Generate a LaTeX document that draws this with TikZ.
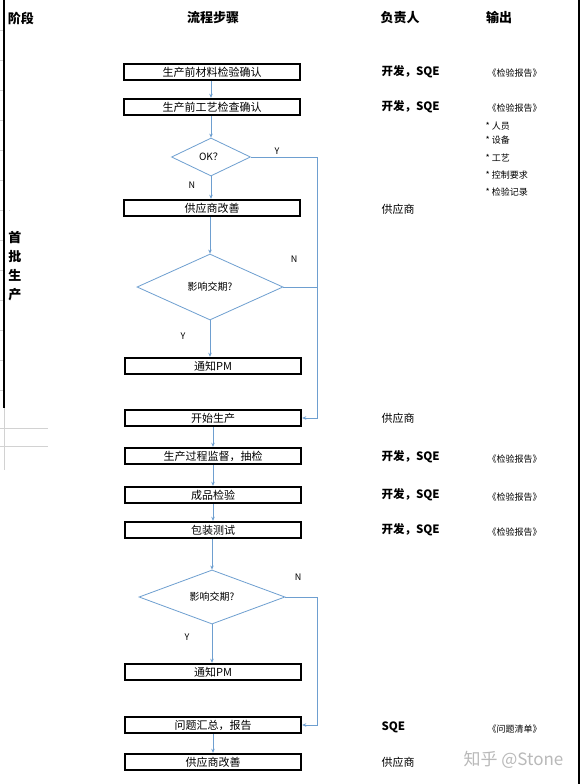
\documentclass[tikz,border=0pt]{standalone}
\usepackage{fontspec}
\setmainfont{Noto Sans CJK SC}
\newfontfamily\cjk{Noto Sans CJK SC}
\usetikzlibrary{shapes.geometric,arrows.meta}
\definecolor{flowblue}{HTML}{6E9FD0}
\begin{document}
\begin{tikzpicture}[x=1pt,y=-1pt,
  stepbox/.style={draw=black,line width=2.4pt,fill=white,minimum width=176pt,minimum height=16pt,inner sep=0pt,font=\fontsize{11}{11}\selectfont},
  decide/.style={diamond,draw=flowblue,line width=0.8pt,inner sep=0pt,font=\fontsize{10}{10}\selectfont},
  arr/.style={draw=flowblue,line width=0.8pt,-{Stealth[length=4pt,width=3.5pt]}},
  ln/.style={draw=flowblue,line width=0.8pt},
  head/.style={font=\fontsize{13}{13}\selectfont\bfseries},
  who/.style={anchor=west,font=\fontsize{11}{11}\selectfont},
  whob/.style={anchor=west,font=\fontsize{11.5}{11.5}\selectfont\bfseries},
  outp/.style={anchor=west,font=\fontsize{9}{9}\selectfont},
  lab/.style={font=\fontsize{9}{9}\selectfont}]
\useasboundingbox (0,0) rectangle (583,784);
\fill[white] (0,0) rectangle (583,784);
% grid remnants
\draw[gray!35,line width=0.6pt] (4,408) -- (4,470);
\draw[gray!35,line width=0.6pt] (0,428) -- (48,428);
\draw[gray!35,line width=0.6pt] (0,446) -- (48,446);
\foreach \yy in {30,60,90,120,150,180,210,240,270,300,330,360,390}
  \draw[gray!35,line width=0.5pt] (0,\yy) -- (3,\yy);
% frame lines
\draw[black,line width=2pt] (4,0) -- (4,408);
\draw[black,line width=2pt] (579,0) -- (579,784);
% headers
\node[head] (h1) at (21,18) {阶段};
\node[head] (h2) at (213,18) {流程步骤};
\node[head] (h3) at (400,18) {负责人};
\node[head] (h4) at (499,18) {输出};
% stage label
\node[font=\fontsize{4}{4}\selectfont] (dot) at (10,211) {.};
\node[head,align=center] (stage) at (15,266) {首\\[6pt]批\\[6pt]生\\[6pt]产};
% boxes
\node[stepbox] (b1) at (212,72) {生产前材料检验确认};
\node[stepbox] (b2) at (212,107) {生产前工艺检查确认};
\node[decide,minimum width=79pt,minimum height=38pt] (d1) at (211,157) {OK？};
\node[stepbox] (b3) at (212,208) {供应商改善};
\node[decide,minimum width=146pt,minimum height=66pt] (d2) at (210,287) {影响交期?};
\node[stepbox] (b4) at (213,366) {通知PM};
\node[stepbox] (b6) at (213,418) {开始生产};
\node[stepbox] (b7) at (213,456) {生产过程监督，抽检};
\node[stepbox] (b8) at (213,495) {成品检验};
\node[stepbox] (b9) at (213,530) {包装测试};
\node[decide,minimum width=146pt,minimum height=49pt] (d3) at (212,597) {影响交期?};
\node[stepbox] (b11) at (213,672) {通知PM};
\node[stepbox] (b12) at (213,725) {问题汇总，报告};
\node[stepbox] (b13) at (213,762) {供应商改善};
% connector corners
\coordinate (r1) at (317,157);
\coordinate (r3) at (317,597);
% connectors
\draw[arr] (b1.south -| d1.north) -- (b2.north -| d1.north);
\draw[arr] (b2.south -| d1.north) -- (d1.north);
\draw[arr] (d1.south) -- (b3.north -| d1.south);
\draw[arr] (d1.east) -- (r1) |- (b6.east);
\draw[arr] (b3.south -| d2.north) -- (d2.north);
\draw[ln] (d2.east) -- (d2.east -| r1);
\draw[arr] (d2.south) -- (b4.north -| d2.south);
\draw[arr] (b6) -- (b7);
\draw[arr] (b7) -- (b8);
\draw[arr] (b8) -- (b9);
\draw[arr] (b9.south -| d3.north) -- (d3.north);
\draw[arr] (d3.east) -- (r3) |- (b12.east);
\draw[arr] (d3.south) -- (b11.north -| d3.south);
\draw[arr] (b12) -- (b13);
% branch labels
\node[lab] (y1) at (277,151) {Y};
\node[lab] (n1) at (192,185) {N};
\node[lab] (n2) at (294,259) {N};
\node[lab] (y2) at (183,336) {Y};
\node[lab] (n3) at (298,577) {N};
\node[lab] (y3) at (187,637) {Y};
% responsible
\node[whob] (w1) at (378,72) {开发，SQE};
\node[whob] (w2) at (378,107) {开发，SQE};
\node[who] (w3) at (378,209) {供应商};
\node[who] (w6) at (378,418) {供应商};
\node[whob] (w7) at (378,457) {开发，SQE};
\node[whob] (w8) at (378,495) {开发，SQE};
\node[whob] (w9) at (378,530) {开发，SQE};
\node[whob] (w12) at (378,727) {SQE};
\node[who] (w13) at (378,762) {供应商};
% outputs
\node[outp] (o1) at (484,73) {《检验报告》};
\node[outp] (o2) at (484,108) {《检验报告》};
\node[outp] (l1) at (482,126) {* 人员};
\node[outp] (l2) at (482,140) {* 设备};
\node[outp] (l3) at (482,158) {* 工艺};
\node[outp] (l4) at (482,175) {* 控制要求};
\node[outp] (l5) at (482,192) {* 检验记录};
\node[outp] (o7) at (484,459) {《检验报告》};
\node[outp] (o8) at (484,497) {《检验报告》};
\node[outp] (o9) at (484,532) {《检验报告》};
\node[outp] (o12) at (484,729) {《问题清单》};
% watermark
\node[anchor=west,text=gray!55,font=\fontsize{17}{17}\selectfont] (wm) at (460,760) {知乎 @Stone};
\end{tikzpicture}
\end{document}
